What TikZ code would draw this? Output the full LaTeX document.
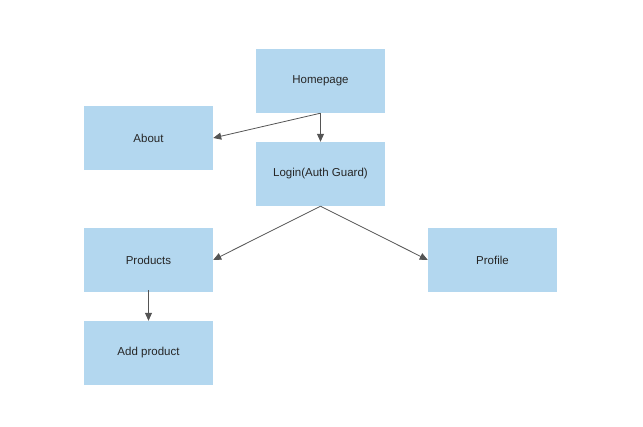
\documentclass[tikz,border=0pt]{standalone}
\usepackage{fontspec}
\setmainfont{Liberation Sans}
\usetikzlibrary{arrows.meta}
\definecolor{boxfill}{HTML}{B3D7EF}
\definecolor{linec}{HTML}{555555}
\begin{document}
\begin{tikzpicture}[x=1pt,y=-1pt,
  box/.style={fill=boxfill,draw=none,minimum width=129pt,minimum height=64pt,inner sep=0pt,font=\fontsize{11.5}{13}\selectfont,text=black!85},
  conn/.style={draw=linec,line width=0.8pt,-{Triangle[length=8pt,width=7pt]}}]
\useasboundingbox (0,0) rectangle (643,427);
\node[box] (home) at (320.5,81) {Homepage};
\node[box] (about) at (148.5,138) {About};
\node[box] (login) at (320.5,174) {Login(Auth Guard)};
\node[box] (prod) at (148.5,260) {Products};
\node[box] (prof) at (492.5,260) {Profile};
\node[box] (add) at (148.5,353) {Add product};
\draw[conn] (home.south) -- (about.east);
\draw[conn] (home.south) -- (login.north);
\draw[conn] (login.south) -- (prod.east);
\draw[conn] (login.south) -- (prof.west);
\draw[conn] ([yshift=2pt]prod.south) -- (add.north);
\end{tikzpicture}
\end{document}
